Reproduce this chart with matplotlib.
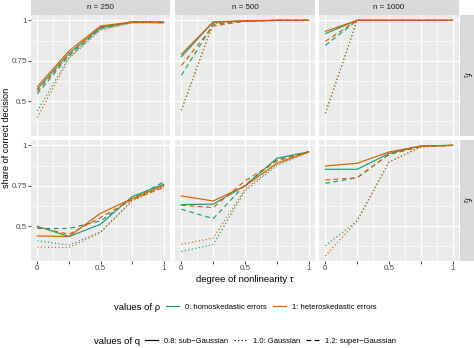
import numpy as np
import matplotlib
matplotlib.use('Agg')
import matplotlib.pyplot as plt
from matplotlib.lines import Line2D

plt.rcParams['font.family'] = ['Liberation Sans', 'DejaVu Sans']
plt.rcParams['mathtext.fontset'] = 'dejavusans'

# ── Data ─────────────────────────────────────────────────────────────────────
TAU = [0, 0.25, 0.5, 0.75, 1]
N_VALUES = ["n = 250", "n = 500", "n = 1000"]
ROW_LABELS = [r"$f_1$", r"$f_2$"]

RHO_LABELS = ["0: homoskedastic errors", "1: heteroskedastic errors"]
Q_LABELS = ["0.8: sub\u2212Gaussian", "1.0: Gaussian", "1.2: super\u2212Gaussian"]

# series order: (rho0,q0.8) (rho0,q1.0) (rho0,q1.2) (rho1,q0.8) (rho1,q1.0) (rho1,q1.2)
F1_N250 = [[0.575, 0.795, 0.955, 0.990, 0.990],
           [0.440, 0.770, 0.945, 0.985, 0.990],
           [0.545, 0.780, 0.950, 0.990, 0.990],
           [0.590, 0.810, 0.965, 0.990, 0.985],
           [0.400, 0.765, 0.940, 0.985, 0.985],
           [0.560, 0.790, 0.960, 0.990, 0.985]]
F1_N500 = [[0.775, 0.990, 0.995, 1.000, 1.000],
           [0.445, 0.985, 0.995, 1.000, 1.000],
           [0.660, 0.975, 0.995, 1.000, 1.000],
           [0.790, 0.990, 0.998, 1.000, 1.000],
           [0.445, 0.980, 0.995, 1.000, 1.000],
           [0.720, 0.965, 0.995, 1.000, 1.000]]
F1_N1000 = [[0.918, 1.000, 1.000, 1.000, 1.000],
            [0.425, 1.000, 1.000, 1.000, 1.000],
            [0.845, 1.000, 1.000, 1.000, 1.000],
            [0.932, 1.000, 1.000, 1.000, 1.000],
            [0.425, 1.000, 1.000, 1.000, 1.000],
            [0.870, 1.000, 1.000, 1.000, 1.000]]
F2_N250 = [[0.500, 0.436, 0.512, 0.683, 0.760],
           [0.410, 0.383, 0.465, 0.660, 0.750],
           [0.486, 0.486, 0.533, 0.670, 0.774],
           [0.440, 0.436, 0.580, 0.670, 0.753],
           [0.372, 0.368, 0.460, 0.656, 0.745],
           [0.495, 0.450, 0.553, 0.665, 0.739]]
F2_N500 = [[0.634, 0.636, 0.750, 0.920, 0.960],
           [0.344, 0.387, 0.718, 0.875, 0.958],
           [0.605, 0.547, 0.755, 0.910, 0.960],
           [0.687, 0.656, 0.749, 0.889, 0.960],
           [0.389, 0.426, 0.728, 0.883, 0.958],
           [0.630, 0.615, 0.780, 0.903, 0.960]]
F2_N1000 = [[0.852, 0.852, 0.950, 0.996, 1.000],
            [0.379, 0.533, 0.897, 0.990, 1.000],
            [0.765, 0.800, 0.944, 0.993, 1.000],
            [0.872, 0.889, 0.959, 0.996, 1.000],
            [0.317, 0.533, 0.897, 0.990, 1.000],
            [0.786, 0.800, 0.944, 0.993, 1.000]]

PANELS = [[F1_N250, F1_N500, F1_N1000],
          [F2_N250, F2_N500, F2_N1000]]

RHO_COLORS = ["#1B9E77", "#D95F02"]
Q_STYLES = ["-", (0, (1, 2)), (0, (4, 3))]

# ── Layout (pixels of a 474x348 canvas) ──────────────────────────────────────
W, H = 474, 348
COL_X = [(31, 170), (175, 315), (319, 459)]
ROW_Y = [(15, 136), (140, 261)]

def rect(x0, x1, y0, y1):
    return [x0 / W, 1 - y1 / H, (x1 - x0) / W, (y1 - y0) / H]

fig = plt.figure(figsize=(W / 100, H / 100), dpi=100)

for r, (y0, y1) in enumerate(ROW_Y):
    for c, (x0, x1) in enumerate(COL_X):
        ax = fig.add_axes(rect(x0, x1, y0, y1))
        ax.set_facecolor("#EBEBEB")
        data = PANELS[r][c]
        for i, vals in enumerate(data):
            rho, q = divmod(i, 3)
            ax.plot(TAU, vals, color=RHO_COLORS[rho], linestyle=Q_STYLES[q],
                    linewidth=0.85)
        ax.set_xlim(-0.05, 1.05)
        ax.set_ylim(0.285, 1.033)
        ax.set_xticks(TAU)
        ax.set_xticks([0.125, 0.375, 0.625, 0.875], minor=True)
        ax.set_yticks([0.5, 0.75, 1])
        ax.set_yticks([0.375, 0.625, 0.875], minor=True)
        ax.grid(True, which='major', color='white', linewidth=0.9)
        ax.grid(True, which='minor', color='white', linewidth=0.45)
        ax.set_axisbelow(True)
        for s in ax.spines.values():
            s.set_visible(False)
        ax.tick_params(which='major', length=2, width=0.6, color='#333333',
                       pad=1, labelsize=5.8, labelcolor='#4D4D4D')
        ax.tick_params(which='minor', length=0)
        if r == 1:
            ax.set_xticklabels(["0", "", "0.5", "", "1"])
        else:
            ax.tick_params(axis='x', length=0, labelbottom=False)
        if c == 0:
            ax.set_yticklabels(["0.5", "0.75", "1"])
        else:
            ax.tick_params(axis='y', length=0, labelleft=False)

# facet strips
for c, (x0, x1) in enumerate(COL_X):
    sax = fig.add_axes(rect(x0, x1, 0, 14.5))
    sax.set_facecolor("#D9D9D9")
    sax.set_xticks([]); sax.set_yticks([])
    for s in sax.spines.values():
        s.set_visible(False)
    sax.text(0.5, 0.5, N_VALUES[c], ha='center', va='center', fontsize=5.8,
             color='#1A1A1A', transform=sax.transAxes)

for r, (y0, y1) in enumerate(ROW_Y):
    sax = fig.add_axes(rect(459.5, 474, y0, y1))
    sax.set_facecolor("#D9D9D9")
    sax.set_xticks([]); sax.set_yticks([])
    for s in sax.spines.values():
        s.set_visible(False)
    sax.text(0.5, 0.5, ROW_LABELS[r], ha='center', va='center', fontsize=6,
             color='#1A1A1A', rotation=270, transform=sax.transAxes)

# axis titles
fig.text(6.5 / W, 1 - 138 / H, "share of correct decision", rotation=90,
         ha='center', va='center', fontsize=6.6)
fig.text(245 / W, 1 - 279 / H, "degree of nonlinearity \u03c4",
         ha='center', va='center', fontsize=6.8)

# legends
rho_handles = [Line2D([], [], color=col, linewidth=0.85) for col in RHO_COLORS]
leg1 = fig.legend(rho_handles, RHO_LABELS, loc='center',
                  bbox_to_anchor=(271 / W, 1 - 307 / H), ncol=2, frameon=False,
                  fontsize=5.5, handlelength=1.7, handletextpad=0.8,
                  columnspacing=0.8)
fig.text(160 / W, 1 - 307 / H, "values of \u03c1", ha='right', va='center',
         fontsize=6.8)

q_handles = [Line2D([], [], color='black', linestyle=ls, linewidth=0.85)
             for ls in Q_STYLES]
leg2 = fig.legend(q_handles, Q_LABELS, loc='center',
                  bbox_to_anchor=(270.5 / W, 1 - 341 / H), ncol=3, frameon=False,
                  fontsize=5.5, handlelength=1.7, handletextpad=0.8,
                  columnspacing=0.8)
fig.text(140 / W, 1 - 341 / H, "values of q", ha='right', va='center',
         fontsize=6.8)

fig.savefig("out.png", dpi=100)
